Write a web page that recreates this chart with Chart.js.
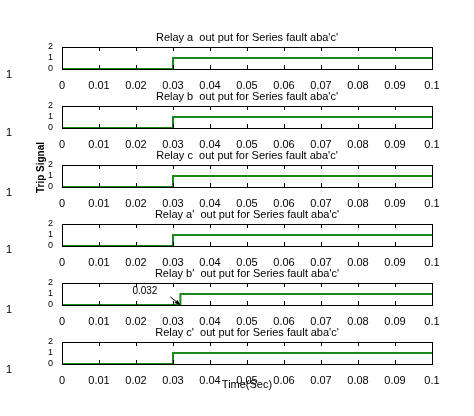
<!DOCTYPE html>
<html><head><meta charset="utf-8">
<script src="https://cdn.jsdelivr.net/npm/chart.js@4/dist/chart.umd.min.js"></script>
<style>
body{margin:0;background:#fff;width:474px;height:416px;position:relative;overflow:hidden;font-family:'Liberation Sans Narrow','Liberation Sans',sans-serif}
.c{position:absolute;left:0;width:474px;height:68px}
.t{position:absolute;font-size:11px;color:#000}
</style></head><body>
<script>
const titles = ["Relay a  out put for Series fault aba'c'","Relay b  out put for Series fault aba'c'","Relay c  out put for Series fault aba'c'","Relay a'  out put for Series fault aba'c'","Relay b'  out put for Series fault aba'c'","Relay c'  out put for Series fault aba'c'"];
const tripTimes = [0.03,0.03,0.03,0.03,0.032,0.03];
const beforeLevel = [0,0,0,0,0,0];
const afterLevel = [1,1,1,1,1,1];
const xTicks = [0,0.01,0.02,0.03,0.04,0.05,0.06,0.07,0.08,0.09,0.1];
const yTicks = [0,1,2];
const FONT = "'Liberation Sans Narrow','Liberation Sans',sans-serif";

const deco = {
  id:'deco',
  afterDraw(ch){
    const c=ch.ctx, a=ch.chartArea, xs=ch.scales.x, ys=ch.scales.y;
    c.save();
    c.fillStyle='#000';c.font='11px '+FONT;c.textAlign='center';c.textBaseline='bottom';
    c.fillText(ch.options.plugins.deco.title,(a.left+a.right)/2,a.top-4);
    c.strokeStyle='#000';c.lineWidth=1;
    xTicks.forEach(t=>{const x=Math.round(xs.getPixelForValue(t))+0.5;
      c.beginPath();c.moveTo(x,a.top);c.lineTo(x,a.top+4);c.moveTo(x,a.bottom);c.lineTo(x,a.bottom-4);c.stroke();});
    c.strokeRect(a.left+0.5,a.top+0.5,a.right-a.left,a.bottom-a.top);
    if(ch.options.plugins.deco.note){
      const tt=ch.options.plugins.deco.note;
      c.font='10px '+FONT;c.textAlign='right';c.textBaseline='middle';
      const hx=xs.getPixelForValue(tt), hy=ys.getPixelForValue(0);
      c.fillText(tt.toString(),hx-23,a.top+8);
      c.beginPath();c.moveTo(hx-10,hy-8);c.lineTo(hx-1,hy-1);c.stroke();
      c.beginPath();c.moveTo(hx,hy);c.lineTo(hx-6,hy-2);c.lineTo(hx-3,hy-5);c.closePath();c.fill();
    }
    c.restore();
  }
};

titles.forEach((ttl,i)=>{
  const d=document.createElement('div');d.className='c';d.style.top=(25+59*i)+'px';
  const cv=document.createElement('canvas');d.appendChild(cv);document.body.appendChild(d);
  const tt=tripTimes[i];
  new Chart(cv,{type:'line',
    data:{datasets:[{data:[{x:0,y:beforeLevel[i]},{x:tt,y:beforeLevel[i]},{x:tt,y:afterLevel[i]},{x:0.1,y:afterLevel[i]}],
      borderColor:'#1a8a1a',borderWidth:2,pointRadius:0,tension:0}]},
    options:{responsive:true,maintainAspectRatio:false,animation:false,
      layout:{padding:{top:22,right:42,left:0,bottom:0}},
      plugins:{legend:{display:false},tooltip:{enabled:false},deco:{title:ttl,note:i===4?tt:null}},
      scales:{
        x:{type:'linear',min:0,max:0.1,afterBuildTicks:s=>{s.ticks=xTicks.map(v=>({value:v}));},
          afterFit:s=>{s.height=24;},grid:{display:false},border:{display:false},
          ticks:{color:'#000',maxRotation:0,autoSkip:false,padding:2,font:{family:FONT,size:11},callback:v=>String(v)}},
        y:{min:0,max:2,afterBuildTicks:s=>{s.ticks=yTicks.map(v=>({value:v}));},
          afterFit:s=>{s.width=62;},grid:{display:false},border:{display:false},
          ticks:{color:'#000',autoSkip:false,padding:1,font:{family:FONT,size:9},callback:v=>String(v)}}
      }},
    plugins:[deco]});
});
[75,133,193,250,310,370].forEach(y=>{const s=document.createElement('div');s.className='t';s.style.left='6px';s.style.top=(y-7)+'px';s.textContent='1';document.body.appendChild(s);});
const yl=document.createElement('div');yl.className='t';yl.textContent='Trip Signal';
yl.style.cssText+='left:10px;top:162px;font-weight:bold;font-family:"Liberation Sans",sans-serif;font-size:10px;transform:rotate(-90deg);width:60px;text-align:center';
document.body.appendChild(yl);
const xl=document.createElement('div');xl.className='t';xl.textContent='Time(Sec)';
xl.style.cssText+='left:0;width:494px;text-align:center;top:378px';document.body.appendChild(xl);
</script>
</body></html>
